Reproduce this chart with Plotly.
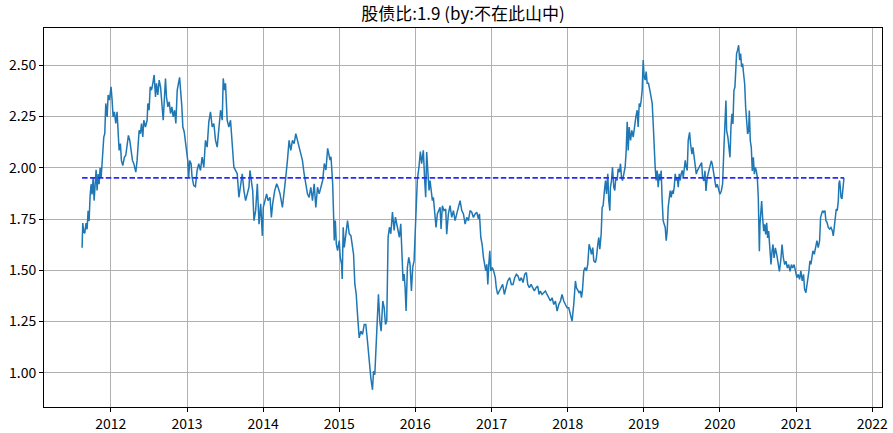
import pandas as pd
import plotly.graph_objects as go

# decimal-year positions of the readings and the stock/bond ratio values
years = [
    2011.623, 2011.632, 2011.645, 2011.658, 2011.675, 2011.689, 2011.702, 2011.715, 2011.728, 2011.741,
    2011.754, 2011.768, 2011.781, 2011.794, 2011.807, 2011.820, 2011.833, 2011.846, 2011.860, 2011.873,
    2011.886, 2011.899, 2011.908, 2011.921, 2011.934, 2011.952, 2011.965, 2011.982, 2012.004, 2012.018,
    2012.031, 2012.048, 2012.066, 2012.083, 2012.096, 2012.110, 2012.127, 2012.140, 2012.158, 2012.180,
    2012.197, 2012.215, 2012.232, 2012.250, 2012.268, 2012.285, 2012.303, 2012.329, 2012.346, 2012.360,
    2012.373, 2012.390, 2012.404, 2012.421, 2012.434, 2012.456, 2012.478, 2012.487, 2012.504, 2012.518,
    2012.535, 2012.553, 2012.570, 2012.588, 2012.601, 2012.618, 2012.636, 2012.654, 2012.671, 2012.689,
    2012.706, 2012.719, 2012.732, 2012.750, 2012.768, 2012.785, 2012.803, 2012.820, 2012.838, 2012.855,
    2012.873, 2012.890, 2012.904,
    2012.934, 2012.947, 2012.965, 2012.991, 2013.009, 2013.022, 2013.035, 2013.053, 2013.066, 2013.088,
    2013.110, 2013.132, 2013.154, 2013.176, 2013.198, 2013.220, 2013.242, 2013.264, 2013.286, 2013.308,
    2013.330, 2013.352, 2013.374, 2013.396, 2013.418, 2013.440, 2013.462, 2013.475, 2013.492, 2013.505,
    2013.527, 2013.549, 2013.571, 2013.593, 2013.615, 2013.637, 2013.659, 2013.681, 2013.703, 2013.725,
    2013.747, 2013.769, 2013.791, 2013.813, 2013.826, 2013.844, 2013.862, 2013.879, 2013.901, 2013.923,
    2013.945, 2013.967, 2013.989, 2014.002, 2014.020, 2014.046, 2014.064, 2014.090, 2014.108, 2014.125,
    2014.152, 2014.178, 2014.196, 2014.222, 2014.253, 2014.275, 2014.297, 2014.319, 2014.341, 2014.363,
    2014.385, 2014.407, 2014.429, 2014.451, 2014.473, 2014.495, 2014.516, 2014.538, 2014.560, 2014.582,
    2014.604, 2014.626, 2014.648, 2014.670, 2014.692, 2014.714, 2014.736,
    2014.782, 2014.803, 2014.825, 2014.847, 2014.860, 2014.878, 2014.891, 2014.913, 2014.926, 2014.934,
    2014.948, 2014.961, 2014.978, 2015.000, 2015.013, 2015.031, 2015.039, 2015.052, 2015.066, 2015.087,
    2015.109, 2015.131, 2015.153, 2015.175, 2015.188, 2015.205, 2015.223, 2015.240, 2015.262, 2015.284,
    2015.306, 2015.328, 2015.349, 2015.371, 2015.393, 2015.415, 2015.437, 2015.450, 2015.467, 2015.480,
    2015.502, 2015.515, 2015.533, 2015.550, 2015.572, 2015.590, 2015.607, 2015.624, 2015.642, 2015.659,
    2015.677, 2015.699, 2015.721, 2015.738, 2015.764, 2015.790, 2015.808, 2015.821, 2015.838, 2015.852,
    2015.865, 2015.878, 2015.895, 2015.913, 2015.930, 2015.948, 2015.965, 2015.983, 2016.004, 2016.026,
    2016.048, 2016.066,
    2016.083, 2016.105, 2016.123, 2016.136, 2016.149, 2016.162, 2016.180, 2016.193, 2016.211, 2016.224,
    2016.237, 2016.250, 2016.263, 2016.272, 2016.289, 2016.307, 2016.325, 2016.338, 2016.355, 2016.377,
    2016.399, 2016.412, 2016.434, 2016.456, 2016.478, 2016.500, 2016.522, 2016.544, 2016.566, 2016.588,
    2016.610, 2016.632, 2016.654, 2016.675, 2016.697, 2016.719, 2016.741, 2016.763, 2016.785, 2016.807,
    2016.829, 2016.842, 2016.860, 2016.877, 2016.895, 2016.912, 2016.925, 2016.939, 2016.952, 2016.965,
    2016.978, 2016.991, 2017.009, 2017.026, 2017.048, 2017.061, 2017.079, 2017.101, 2017.123, 2017.145,
    2017.167, 2017.189, 2017.211, 2017.237, 2017.259, 2017.281, 2017.303, 2017.325, 2017.346, 2017.368,
    2017.390, 2017.412, 2017.434, 2017.456, 2017.474, 2017.496, 2017.518, 2017.539, 2017.561, 2017.583,
    2017.605, 2017.623, 2017.640, 2017.662, 2017.684, 2017.706, 2017.728, 2017.750, 2017.772, 2017.794,
    2017.816, 2017.838, 2017.860, 2017.882, 2017.904, 2017.925, 2017.947, 2017.969, 2017.991, 2018.013,
    2018.035, 2018.057,
    2018.079, 2018.088, 2018.101, 2018.114, 2018.132, 2018.149, 2018.167, 2018.180, 2018.193, 2018.211,
    2018.228, 2018.246, 2018.263, 2018.281, 2018.298, 2018.311, 2018.329, 2018.342, 2018.364, 2018.377,
    2018.395, 2018.408, 2018.421, 2018.439, 2018.452, 2018.465, 2018.482, 2018.496, 2018.509, 2018.526,
    2018.539, 2018.553, 2018.561, 2018.575, 2018.588, 2018.605, 2018.618, 2018.632, 2018.649, 2018.662,
    2018.680, 2018.693, 2018.706, 2018.719, 2018.737, 2018.754, 2018.768, 2018.781, 2018.794, 2018.807,
    2018.825, 2018.842, 2018.860, 2018.877, 2018.895, 2018.912, 2018.925, 2018.939, 2018.952, 2018.965,
    2018.978, 2018.991, 2019.004, 2019.018, 2019.031, 2019.044, 2019.061, 2019.079, 2019.096, 2019.110,
    2019.123, 2019.136, 2019.149, 2019.162, 2019.175, 2019.189, 2019.202, 2019.215, 2019.228, 2019.241,
    2019.254, 2019.268, 2019.281, 2019.294, 2019.307, 2019.320, 2019.333, 2019.346, 2019.360, 2019.373,
    2019.386, 2019.399, 2019.412, 2019.425, 2019.439, 2019.452, 2019.465, 2019.478, 2019.491, 2019.504,
    2019.518, 2019.531, 2019.544, 2019.557, 2019.570, 2019.583, 2019.596,
    2019.601, 2019.614, 2019.632, 2019.645, 2019.658, 2019.675, 2019.689, 2019.702, 2019.724, 2019.746,
    2019.759, 2019.772, 2019.789, 2019.803, 2019.816, 2019.833, 2019.851, 2019.868, 2019.886, 2019.899,
    2019.912, 2019.930, 2019.947, 2019.965, 2019.987, 2020.000, 2020.018, 2020.035, 2020.053, 2020.066,
    2020.079, 2020.088, 2020.105, 2020.118, 2020.132, 2020.145, 2020.158, 2020.171, 2020.184, 2020.197,
    2020.206, 2020.219, 2020.232, 2020.246, 2020.259, 2020.272, 2020.285, 2020.298, 2020.311, 2020.325,
    2020.338, 2020.351, 2020.364, 2020.377, 2020.386, 2020.399, 2020.412, 2020.425, 2020.439, 2020.452,
    2020.465, 2020.478, 2020.491, 2020.504, 2020.518, 2020.526, 2020.535, 2020.548, 2020.561, 2020.575,
    2020.588, 2020.601, 2020.614, 2020.627, 2020.640, 2020.658, 2020.671, 2020.684, 2020.697, 2020.711,
    2020.728, 2020.746, 2020.763, 2020.781, 2020.798, 2020.816, 2020.833, 2020.851, 2020.868, 2020.886,
    2020.904, 2020.921, 2020.939, 2020.956, 2020.974,
    2020.996, 2021.009, 2021.026, 2021.044, 2021.061, 2021.079, 2021.096, 2021.110, 2021.127, 2021.140,
    2021.154, 2021.167, 2021.180, 2021.193, 2021.206, 2021.219, 2021.237, 2021.254, 2021.272, 2021.289,
    2021.307, 2021.320, 2021.333, 2021.346, 2021.360, 2021.377, 2021.390, 2021.404, 2021.421, 2021.439,
    2021.456, 2021.474, 2021.487, 2021.500, 2021.513, 2021.526, 2021.539, 2021.553, 2021.561, 2021.570,
    2021.579, 2021.588, 2021.601, 2021.610, 2021.618, 2021.627,
]

ratio = [
    1.61, 1.73, 1.69, 1.68, 1.73, 1.70, 1.79, 1.74, 1.86, 1.92,
    1.87, 1.95, 1.84, 1.94, 1.99, 1.89, 1.97, 1.92, 2.00, 1.95,
    2.04, 2.10, 2.150, 2.167, 2.314, 2.248, 2.355, 2.330, 2.395, 2.330,
    2.248, 2.273, 2.216, 2.273, 2.191, 2.085, 2.118, 2.036, 2.011, 2.052,
    2.060, 2.100, 2.158, 2.134, 2.069, 2.036, 2.020, 1.979, 2.036, 2.100,
    2.183, 2.167, 2.216, 2.150, 2.232, 2.199, 2.232, 2.314, 2.281, 2.395,
    2.379, 2.412, 2.453, 2.346, 2.412, 2.355, 2.428, 2.395, 2.330, 2.232,
    2.346, 2.436, 2.346, 2.297, 2.322, 2.265, 2.297, 2.248, 2.281, 2.216,
    2.379, 2.412, 2.441,
    2.297, 2.199, 2.175, 2.085, 2.036, 1.954, 2.036, 2.020, 1.954, 1.913,
    1.908, 1.987, 2.020, 1.987, 2.052, 2.003, 2.134, 2.101, 2.224, 2.273,
    2.199, 2.216, 2.134, 2.101, 2.199, 2.281, 2.232, 2.436, 2.379, 2.412,
    2.232, 2.199, 2.232, 2.085, 2.003, 1.987, 1.971, 1.856, 1.922, 1.971,
    1.889, 1.840, 1.873, 1.905, 1.987, 1.938, 1.889, 1.742, 1.791, 1.922,
    1.725, 1.824, 1.668, 1.807, 1.840, 1.873, 1.840, 1.856, 1.758, 1.824,
    1.889, 1.922, 1.905, 1.873, 1.807, 1.873, 1.954, 2.036, 2.134, 2.085,
    2.134, 2.118, 2.167, 2.134, 2.101, 2.069, 2.036, 1.971, 1.922, 1.873,
    1.856, 1.905, 1.840, 1.922, 1.807, 1.905, 1.873,
    1.939, 2.021, 1.989, 2.095, 2.070, 2.038, 2.054, 1.923, 1.759, 1.645,
    1.743, 1.628, 1.596, 1.645, 1.563, 1.530, 1.457, 1.710, 1.612, 1.678,
    1.743, 1.678, 1.669, 1.612, 1.579, 1.432, 1.383, 1.285, 1.170, 1.203,
    1.187, 1.236, 1.236, 1.154, 1.056, 0.974, 0.917, 1.007, 0.990, 1.105,
    1.236, 1.383, 1.252, 1.203, 1.350, 1.318, 1.236, 1.252, 1.661, 1.710,
    1.678, 1.784, 1.694, 1.759, 1.710, 1.661, 1.727, 1.579, 1.448, 1.481,
    1.416, 1.301, 1.514, 1.563, 1.530, 1.399, 1.514, 1.547, 1.776, 1.939,
    2.005, 2.079,
    2.020, 2.085, 1.938, 1.856, 2.077, 1.987, 1.889, 1.938, 1.873, 1.840,
    1.856, 1.791, 1.758, 1.709, 1.775, 1.791, 1.807, 1.701, 1.815, 1.791,
    1.799, 1.676, 1.775, 1.815, 1.758, 1.791, 1.742, 1.775, 1.807, 1.840,
    1.791, 1.775, 1.725, 1.758, 1.742, 1.791, 1.783, 1.758, 1.775, 1.783,
    1.750, 1.775, 1.660, 1.627, 1.562, 1.529, 1.497, 1.529, 1.431, 1.529,
    1.595, 1.497, 1.513, 1.497, 1.464, 1.415, 1.382, 1.399, 1.415, 1.431,
    1.382, 1.415, 1.448, 1.464, 1.431, 1.431, 1.464, 1.480, 1.472, 1.448,
    1.464, 1.440, 1.480, 1.489, 1.431, 1.415, 1.431, 1.415, 1.399, 1.415,
    1.423, 1.382, 1.399, 1.382, 1.391, 1.399, 1.382, 1.366, 1.350, 1.366,
    1.333, 1.350, 1.301, 1.333, 1.350, 1.382, 1.350, 1.333, 1.317, 1.317,
    1.284, 1.252,
    1.333, 1.366, 1.448, 1.415, 1.399, 1.391, 1.399, 1.366, 1.399, 1.497,
    1.513, 1.497, 1.529, 1.627, 1.603, 1.578, 1.611, 1.546, 1.538, 1.562,
    1.627, 1.660, 1.603, 1.676, 1.807, 1.815, 1.889, 1.938, 1.873, 1.971,
    1.840, 1.791, 1.905, 1.938, 2.003, 1.905, 1.889, 1.954, 1.938, 1.995,
    1.979, 2.020, 1.954, 1.938, 1.971, 2.003, 2.085, 2.224, 2.085, 2.199,
    2.134, 2.183, 2.150, 2.216, 2.248, 2.281, 2.199, 2.314, 2.297, 2.330,
    2.379, 2.526, 2.444, 2.428, 2.469, 2.412, 2.412, 2.379, 2.346, 2.314,
    2.216, 2.085, 2.003, 1.938, 1.987, 1.905, 1.971, 1.938, 1.987, 1.840,
    1.742, 1.725, 1.709, 1.644, 1.693, 1.807, 1.873, 1.889, 1.856, 1.889,
    1.873, 1.905, 1.971, 1.938, 1.954, 1.905, 1.971, 1.938, 1.971, 1.987,
    1.954, 2.003, 2.036, 2.003, 1.987, 2.134, 2.167,
    2.173, 2.116, 2.067, 2.100, 2.051, 2.018, 1.969, 1.985, 2.002, 2.018,
    2.026, 1.953, 1.936, 1.985, 1.887, 1.953, 1.985, 2.002, 2.034, 2.018,
    1.985, 1.953, 1.904, 1.920, 1.887, 1.871, 1.887, 1.920, 2.100, 2.247,
    2.328, 2.181, 2.149, 2.100, 2.051, 2.198, 2.263, 2.214, 2.377, 2.394,
    2.459, 2.557, 2.574, 2.598, 2.525, 2.557, 2.492, 2.508, 2.459, 2.410,
    2.296, 2.230, 2.165, 2.181, 2.279, 2.132, 2.100, 1.985, 2.051, 1.969,
    2.002, 1.985, 1.953, 1.855, 1.593, 1.724, 1.773, 1.838, 1.757, 1.691,
    1.724, 1.675, 1.732, 1.658, 1.691, 1.609, 1.528, 1.593, 1.626, 1.560,
    1.609, 1.577, 1.544, 1.495, 1.544, 1.626, 1.560, 1.528, 1.544, 1.511,
    1.528, 1.495, 1.528, 1.511, 1.528,
    1.497, 1.464, 1.480, 1.456, 1.497, 1.448, 1.480, 1.407, 1.391, 1.423,
    1.448, 1.497, 1.546, 1.529, 1.562, 1.595, 1.578, 1.603, 1.644, 1.611,
    1.644, 1.758, 1.775, 1.791, 1.783, 1.791, 1.742, 1.734, 1.709, 1.701,
    1.709, 1.693, 1.668, 1.725, 1.783, 1.799, 1.791, 1.840, 1.922, 1.938,
    1.905, 1.856, 1.848, 1.889, 1.946, 1.951,
]

title_text = "股债比:1.9 (by:不在此山中)"
y_ticks = [1.00, 1.25, 1.50, 1.75, 2.00, 2.25, 2.50]
x_tick_years = list(range(2012, 2023))


def to_date(y):
    base = int(y)
    return pd.Timestamp(f"{base}-01-01") + pd.Timedelta(days=(y - base) * 365.25)


dates = [to_date(y) for y in years]
last_val = ratio[-1]

# matplotlib-like 5% margins
span_x = years[-1] - years[0]
x_range = [to_date(years[0] - 0.05 * span_x), to_date(years[-1] + 0.05 * span_x)]
span_y = max(ratio) - min(ratio)
y_range = [min(ratio) - 0.05 * span_y, max(ratio) + 0.05 * span_y]

fig = go.Figure()
fig.add_trace(go.Scatter(x=dates, y=ratio, mode="lines",
                         line=dict(color="#1f77b4", width=1.5), showlegend=False))
fig.add_trace(go.Scatter(x=[dates[0], dates[-1]], y=[last_val, last_val], mode="lines",
                         line=dict(color="#2a2aff", width=1.6, dash="5.5px,2.4px"),
                         showlegend=False))

font_fam = "Noto Sans CJK SC, SimHei, sans-serif"
fig.update_layout(
    width=893, height=433,
    margin=dict(l=44, r=11, t=28, b=26, autoexpand=False),
    paper_bgcolor="white", plot_bgcolor="white",
    title=dict(text=title_text, x=(44 + 882) / 2 / 893, xanchor="center",
               y=1 - 14 / 433, yanchor="middle",
               font=dict(family=font_fam, size=17, color="black")),
    font=dict(family=font_fam, size=14, color="black"),
)
fig.update_xaxes(
    type="date", range=x_range, automargin=False,
    tickvals=[pd.Timestamp(f"{y}-01-01") for y in x_tick_years],
    ticktext=[str(y) for y in x_tick_years],
    showgrid=True, gridcolor="#b0b0b0", gridwidth=0.8,
    showline=True, linecolor="black", linewidth=1, mirror=True,
    ticks="outside", ticklen=4, tickwidth=1, tickcolor="black",
    zeroline=False, tickfont=dict(size=14),
)
fig.update_yaxes(
    range=y_range, automargin=False,
    tickvals=y_ticks, ticktext=[f"{v:.2f}" for v in y_ticks],
    showgrid=True, gridcolor="#b0b0b0", gridwidth=0.8,
    showline=True, linecolor="black", linewidth=1, mirror=True,
    ticks="outside", ticklen=4, tickwidth=1, tickcolor="black",
    zeroline=False, tickfont=dict(size=14),
)

fig.write_html("out.html")
